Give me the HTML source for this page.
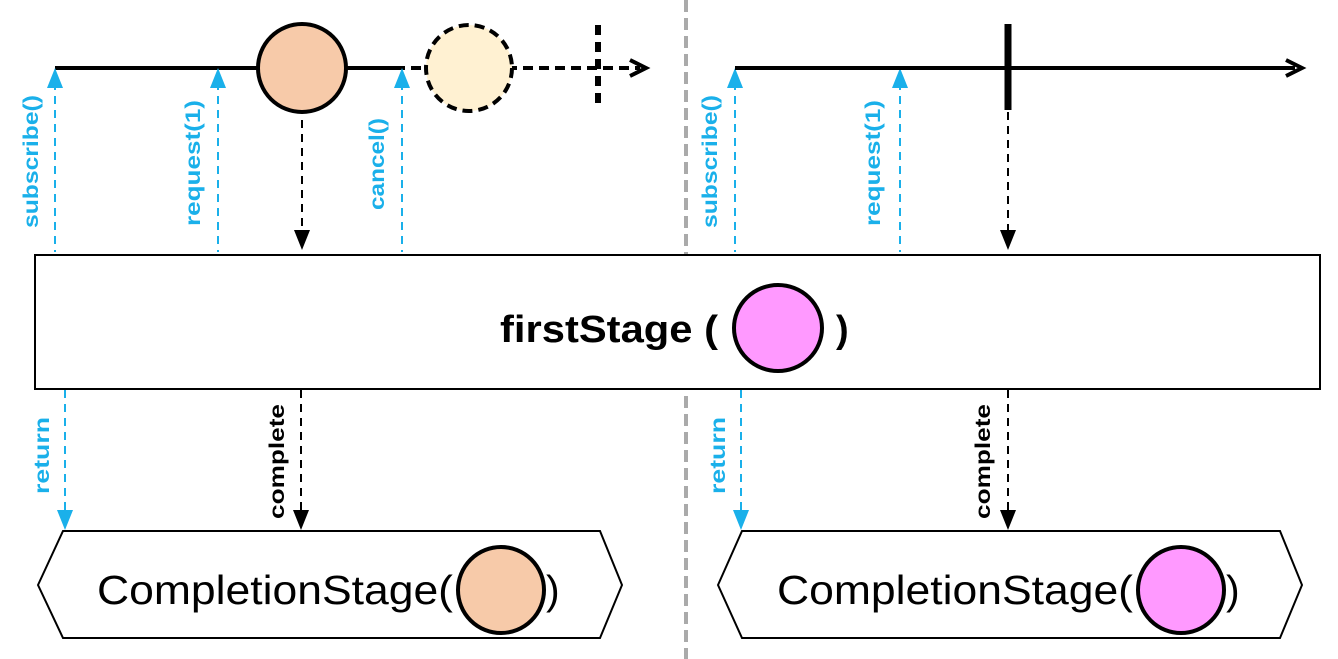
<!DOCTYPE html>
<html><head><meta charset="utf-8"><style>
html,body{margin:0;padding:0;background:#fff;}
svg{display:block;}
.lb{font-family:"Liberation Sans",sans-serif;font-weight:bold;font-size:21px;fill:#1ab0ea;}
.lk{font-family:"Liberation Sans",sans-serif;font-weight:bold;font-size:21px;fill:#000;}
.cs{font-family:"Liberation Sans",sans-serif;font-size:41px;fill:#000;}
</style></head><body>
<svg width="1338" height="659" viewBox="0 0 1338 659" xmlns="http://www.w3.org/2000/svg">
<line x1="686" y1="0" x2="686" y2="659" stroke="#aaa" stroke-width="4" stroke-dasharray="12,6"/>
<line x1="55" y1="68" x2="395" y2="68" stroke="#000" stroke-width="4"/>
<line x1="395" y1="68" x2="640" y2="68" stroke="#000" stroke-width="4" stroke-dasharray="10,6"/>
<polyline points="630,60 646,68 630,76" fill="none" stroke="#000" stroke-width="4"/>
<line x1="598" y1="25" x2="598" y2="106" stroke="#000" stroke-width="6" stroke-dasharray="10,7"/>
<ellipse cx="302" cy="68" rx="44" ry="44" fill="#f7caa9" stroke="#000" stroke-width="4"/>
<ellipse cx="469" cy="68" rx="43" ry="43" fill="#fff1d2" stroke="#000" stroke-width="4" stroke-dasharray="10,6"/>
<g stroke="#1ab0ea" stroke-width="2" stroke-dasharray="8,6">
<line x1="55" y1="82" x2="55" y2="252"/><line x1="218" y1="82" x2="218" y2="252"/><line x1="402" y1="82" x2="402" y2="252"/>
<line x1="65" y1="390" x2="65" y2="515"/><line x1="741" y1="390" x2="741" y2="515"/>
<line x1="735" y1="82" x2="735" y2="252"/><line x1="900" y1="82" x2="900" y2="252"/>
</g>
<g fill="#1ab0ea">
<polygon points="55,68 47,88 63,88"/><polygon points="218,68 210,88 226,88"/><polygon points="402,68 394,88 410,88"/>
<polygon points="735,68 727,88 743,88"/><polygon points="900,68 892,88 908,88"/>
<polygon points="65,530 57,510 73,510"/><polygon points="741,530 733,510 749,510"/>
</g>
<text class="lb" transform="translate(38,228) rotate(-90)" textLength="133" lengthAdjust="spacingAndGlyphs">subscribe()</text>
<text class="lb" transform="translate(200,226) rotate(-90)" textLength="126" lengthAdjust="spacingAndGlyphs">request(1)</text>
<text class="lb" transform="translate(384,210) rotate(-90)" textLength="92" lengthAdjust="spacingAndGlyphs">cancel()</text>
<text class="lb" transform="translate(717,228) rotate(-90)" textLength="133" lengthAdjust="spacingAndGlyphs">subscribe()</text>
<text class="lb" transform="translate(880,226) rotate(-90)" textLength="126" lengthAdjust="spacingAndGlyphs">request(1)</text>
<text class="lb" transform="translate(49,494) rotate(-90)" textLength="77" lengthAdjust="spacingAndGlyphs">return</text>
<text class="lb" transform="translate(725,494) rotate(-90)" textLength="77" lengthAdjust="spacingAndGlyphs">return</text>
<g stroke="#000" stroke-width="2" stroke-dasharray="8,6">
<line x1="302" y1="120" x2="302" y2="235"/><line x1="1008" y1="112" x2="1008" y2="235"/>
<line x1="301" y1="390" x2="301" y2="515"/><line x1="1008" y1="390" x2="1008" y2="515"/>
</g>
<g fill="#000">
<polygon points="302,250 294,230 310,230"/><polygon points="1008,250 1000,230 1016,230"/>
<polygon points="301,530 293,510 309,510"/><polygon points="1008,530 1000,510 1016,510"/>
</g>
<text class="lk" transform="translate(284,519) rotate(-90)" textLength="115" lengthAdjust="spacingAndGlyphs">complete</text>
<text class="lk" transform="translate(990,519) rotate(-90)" textLength="115" lengthAdjust="spacingAndGlyphs">complete</text>
<line x1="735" y1="68" x2="1295" y2="68" stroke="#000" stroke-width="4"/>
<polyline points="1286,60 1302,68 1286,76" fill="none" stroke="#000" stroke-width="4"/>
<line x1="1008" y1="24" x2="1008" y2="110" stroke="#000" stroke-width="7"/>
<rect x="35" y="255" width="1285" height="134" fill="#fff" stroke="#000" stroke-width="2"/>
<text x="500" y="342" font-family="Liberation Sans,sans-serif" font-weight="bold" font-size="38" textLength="218" lengthAdjust="spacingAndGlyphs">firstStage (</text>
<ellipse cx="778" cy="328" rx="44" ry="43" fill="#ff99ff" stroke="#000" stroke-width="4"/>
<text x="836" y="342" font-family="Liberation Sans,sans-serif" font-weight="bold" font-size="38">)</text>
<polygon points="38,585 63,531 600,531 622,585 600,638 63,638" fill="#fff" stroke="#000" stroke-width="2"/>
<text class="cs" x="97" y="604" textLength="356" lengthAdjust="spacingAndGlyphs">CompletionStage(</text>
<ellipse cx="501" cy="590" rx="43" ry="43" fill="#f7caa9" stroke="#000" stroke-width="4"/>
<text class="cs" x="546" y="604">)</text>
<polygon points="718,585 742,531 1280,531 1302,585 1280,638 742,638" fill="#fff" stroke="#000" stroke-width="2"/>
<text class="cs" x="777" y="604" textLength="356" lengthAdjust="spacingAndGlyphs">CompletionStage(</text>
<ellipse cx="1181" cy="590" rx="43" ry="43" fill="#ff99ff" stroke="#000" stroke-width="4"/>
<text class="cs" x="1226" y="604">)</text>
</svg>
</body></html>
